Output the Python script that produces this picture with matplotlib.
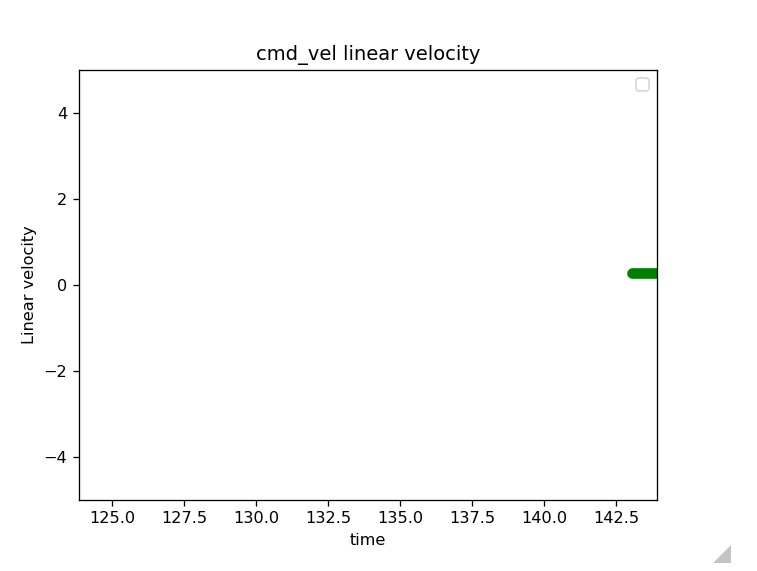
import matplotlib
matplotlib.use('Agg')
import matplotlib.pyplot as plt
from matplotlib.patches import Polygon

# cmd_vel samples (time in s, linear velocity)
time = [143.06, 143.5, 144.0, 144.5]
linear_vel = [0.28, 0.28, 0.28, 0.28]

x_limits = (123.84, 143.92)
y_limits = (-5, 5)

DPI = 116.6
fig = plt.figure(figsize=(757 / DPI, 571 / DPI), dpi=DPI)
ax = fig.add_axes([78.6 / 757, 71 / 571, (657 - 78.6) / 757, (500.5 - 70.5) / 571])

ax.plot(time, linear_vel, color='green', linewidth=6.6, solid_capstyle='round')
ax.set_xlim(*x_limits)
ax.set_ylim(*y_limits)
ax.set_xticks([125.0, 127.5, 130.0, 132.5, 135.0, 137.5, 140.0, 142.5])
ax.set_yticks([-4, -2, 0, 2, 4])
ax.set_title('cmd_vel linear velocity')
ax.set_xlabel('time')
ax.set_ylabel('Linear velocity')
ax.legend(handles=[], loc='upper right')

# window resize grip in the corner
fig.patches.append(Polygon([(731 / 757, 1 - 545 / 571), (731 / 757, 1 - 563 / 571), (713 / 757, 1 - 563 / 571)],
                           closed=True, transform=fig.transFigure, facecolor='#c4c4c4', edgecolor='none'))

fig.savefig('out.png', dpi=DPI)
